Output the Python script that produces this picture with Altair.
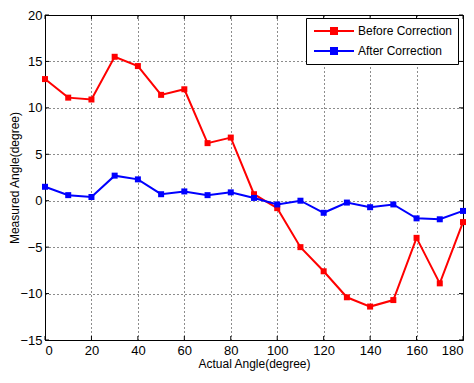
import altair as alt
import pandas as pd

angles = [0, 10, 20, 30, 40, 50, 60, 70, 80, 90, 100, 110, 120, 130, 140, 150, 160, 170, 180]
before = [13.1, 11.1, 10.9, 15.5, 14.5, 11.4, 12.0, 6.2, 6.8, 0.7, -0.8, -5.0, -7.6, -10.4, -11.4, -10.7, -4.0, -8.9, -2.3]
after = [1.5, 0.6, 0.4, 2.7, 2.3, 0.7, 1.0, 0.6, 0.9, 0.3, -0.4, 0.0, -1.3, -0.2, -0.7, -0.4, -1.9, -2.0, -1.1]
series_names = ["Before Correction", "After Correction"]
series_colors = ["#FF0000", "#0000FF"]
x_ticks = [0, 20, 40, 60, 80, 100, 120, 140, 160, 180]
y_ticks = [-15, -10, -5, 0, 5, 10, 15, 20]

rows = []
for a, b in zip(angles, before):
    rows.append({"angle": a, "value": b, "series": series_names[0]})
for a, v in zip(angles, after):
    rows.append({"angle": a, "value": v, "series": series_names[1]})
df = pd.DataFrame(rows)

W, H = 418, 325
xs = alt.Scale(domain=[0, 180], nice=False, zero=False)
ys = alt.Scale(domain=[-15, 20], nice=False, zero=False)
font = "Liberation Sans"

x_enc = alt.X("angle:Q", scale=xs, axis=alt.Axis(values=x_ticks, title="Actual Angle(degree)",
              grid=True, gridDash=[1, 3], gridColor="#000000", gridOpacity=0.9,
              tickSize=0, labelPadding=4, domain=False, titlePadding=1))
y_enc = alt.Y("value:Q", scale=ys, axis=alt.Axis(values=y_ticks, title="Measured Angle(degree)",
              grid=True, gridDash=[1, 3], gridColor="#000000", gridOpacity=0.9,
              tickSize=0, labelPadding=3, domain=False,
              titleX=-31, titleY=H / 2, titleBaseline="middle", titleAlign="center", titleAngle=270))

color = alt.Color("series:N", scale=alt.Scale(domain=series_names, range=series_colors),
                  sort=series_names,
                  legend=alt.Legend(title=None, orient="none", legendX=261, legendY=3,
                                    strokeColor="#000000", fillColor="#FFFFFF",
                                    padding=5, rowPadding=4,
                                    symbolType="M-0.714,0H5M1.714,-0.43H2.572V0.43H1.714Z",
                                    symbolSize=196, symbolStrokeWidth=2,
                                    labelFontSize=12, labelFont=font, labelColor="#000000",
                                    labelOffset=31))

lines = alt.Chart(df).mark_line(strokeWidth=2, point=alt.OverlayMarkDef(shape="square", filled=True, size=36, opacity=1)).encode(
    x=x_enc, y=y_enc, color=color)

tick_df_x = pd.DataFrame({"t": x_ticks})
tick_df_y = pd.DataFrame({"t": y_ticks})
tb = alt.Chart(tick_df_x).mark_rule(color="#000000", strokeWidth=1).encode(
    x=alt.X("t:Q", scale=xs), y=alt.value(H), y2=alt.value(H - 4))
tt = alt.Chart(tick_df_x).mark_rule(color="#000000", strokeWidth=1).encode(
    x=alt.X("t:Q", scale=xs), y=alt.value(0), y2=alt.value(4))
tl = alt.Chart(tick_df_y).mark_rule(color="#000000", strokeWidth=1).encode(
    y=alt.Y("t:Q", scale=ys), x=alt.value(0), x2=alt.value(4))
tr = alt.Chart(tick_df_y).mark_rule(color="#000000", strokeWidth=1).encode(
    y=alt.Y("t:Q", scale=ys), x=alt.value(W), x2=alt.value(W - 4))

chart = alt.layer(tb, tt, tl, tr, lines).properties(
    width=W, height=H,
    background="#FFFFFF",
    autosize=alt.AutoSizeParams(type="none"),
    padding={"left": 37, "top": 7, "right": 3, "bottom": 35},
).configure_view(stroke="#000000", strokeWidth=1).configure_axis(
    labelFont=font, titleFont=font, labelFontSize=13, titleFontSize=12,
    labelColor="#000000", titleColor="#000000", titleFontWeight="normal"
)

chart.save("out.html", embed_options={"renderer": "svg", "actions": False})
